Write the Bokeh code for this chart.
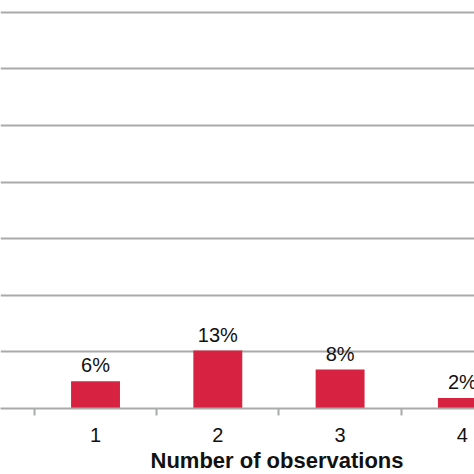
from bokeh.plotting import figure
from bokeh.models import FixedTicker, Grid, Range1d, ColumnDataSource, Title
from bokeh.embed import file_html
from bokeh.resources import INLINE
from bokeh.core.properties import value

# Data
observations = [1, 2, 3, 4]
percent = [6.0, 12.8, 8.6, 2.3]
labels = ["6%", "13%", "8%", "2%"]
grid_values = [0, 12.5, 25, 37.5, 50, 62.5, 75, 87.5]
x_title = "Number of observations"

src = ColumnDataSource(dict(x=observations, top=percent, label=labels))

p = figure(width=474, height=474, output_backend="svg", toolbar_location=None,
           x_range=Range1d(0.223, 4.099), y_range=Range1d(0, 90.1),
           y_axis_location=None, min_border_left=0, min_border_right=0,
           min_border_top=0, min_border_bottom=65)
p.outline_line_color = None
for gr in p.grid:
    gr.visible = False

g = Grid(dimension=1, ticker=FixedTicker(ticks=grid_values),
         grid_line_color="#a9aaaa", grid_line_width=2)
p.add_layout(g)

p.vbar(x="x", top="top", width=0.4, source=src, fill_color="#d72341", line_color=None)
p.text(x="x", y="top", text="label", source=src, text_align="center",
       text_baseline="bottom", y_offset=-5, text_font=value("Liberation Sans"),
       text_font_size="20px", text_color="#111111")

ax = p.xaxis[0]
ax.ticker = FixedTicker(ticks=observations, minor_ticks=[0.5, 1.5, 2.5, 3.5])
ax.axis_line_color = "#a9aaaa"
ax.axis_line_width = 2
ax.major_tick_out = 0
ax.major_tick_in = 0
ax.minor_tick_out = 7
ax.minor_tick_in = 0
ax.minor_tick_line_color = "#a9aaaa"
ax.minor_tick_line_width = 2
ax.major_label_text_font = "Liberation Sans"
ax.major_label_text_font_size = "20px"
ax.major_label_text_color = "#111111"
ax.major_label_standoff = 12

t = Title(text=x_title, align="left", offset=150, standoff=3,
          text_font="Liberation Sans", text_font_size="22px",
          text_font_style="bold", text_color="#111111")
p.add_layout(t, "below")

open("out.html", "w").write(file_html(p, INLINE))
